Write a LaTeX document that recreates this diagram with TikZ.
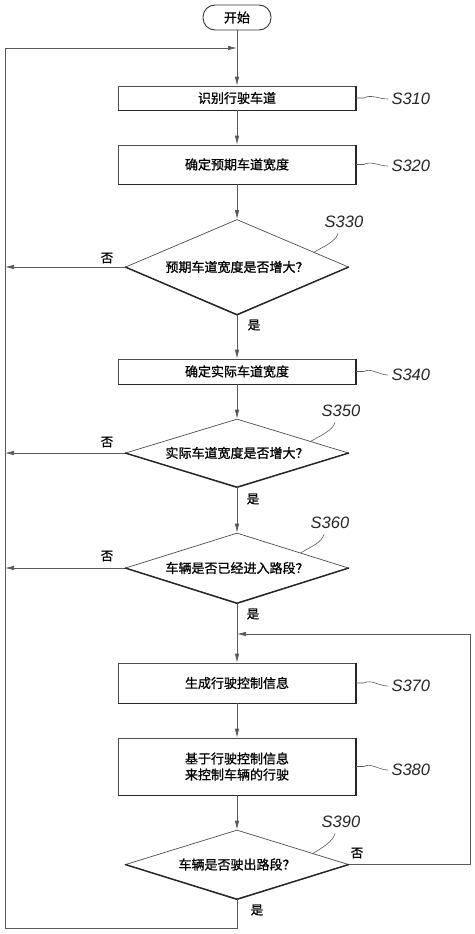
\documentclass[tikz,border=0pt]{standalone}
\usepackage{fontspec}
\setmainfont{Liberation Sans}
\newfontfamily\cjk{Noto Sans CJK SC}[FakeBold=1]
\usetikzlibrary{shapes.geometric}
\usetikzlibrary{arrows.meta}
\usetikzlibrary{calc}

\tikzset{
  box/.style={draw=black!70, line width=0.7pt, minimum width=237pt, inner sep=0pt,
    align=center, font=\cjk\fontsize{13}{16}\selectfont},
  decision/.style={draw=black!70, line width=0.7pt, diamond, aspect=4, minimum width=223pt,
    inner sep=0pt, font=\cjk\fontsize{13}{16}\selectfont},
  terminal/.style={draw=black!80, line width=0.9pt, rounded corners=12pt,
    minimum width=68pt, minimum height=25pt, font=\cjk\fontsize{13}{16}\selectfont},
  flow/.style={draw=black!65, line width=0.7pt, -{Latex[length=9pt,width=4.5pt]}},
  leader/.style={draw=black!65, line width=0.6pt},
  steptag/.style={font=\itshape\fontsize{16.5}{16}\selectfont, text=black!85},
  answer/.style={font=\cjk\fontsize{12.5}{14}\selectfont}
}

\begin{document}
\begin{tikzpicture}[x=1pt,y=-1pt]
\useasboundingbox (0,0) rectangle (474,934);

\node[terminal] (start) at (237,17.5) {开始};

\node[box, minimum height=24pt] (s310) at (237,98) {识别行驶车道};
\node[box, minimum height=39pt] (s320) at (237,164.5) {确定预期车道宽度};
\node[decision, minimum height=95pt] (d330) at (237,267) {预期车道宽度是否增大？};
\node[box, minimum height=25pt] (s340) at (237,371.5) {确定实际车道宽度};
\node[decision, minimum height=68pt] (d350) at (237,453) {实际车道宽度是否增大？};
\node[decision, minimum height=70pt] (d360) at (237,568) {车辆是否已经进入路段？};
\node[box, minimum height=40pt] (s370) at (237,683) {生成行驶控制信息};
\node[box, minimum height=57pt] (s380) at (237,766.5) {基于行驶控制信息\\来控制车辆的行驶};
\node[decision, minimum height=69pt] (d390) at (237,864.5) {车辆是否驶出路段？};

% heavier lower edges
\foreach \n in {s310,s320,s340,s370,s380}
  \draw[line width=1.6pt, black!85] (\n.north east) -- (\n.south east) -- (\n.south west);
\foreach \n in {d330,d350,d360,d390}
  \draw[line width=1.4pt, black!85] (\n.west) -- (\n.south) -- (\n.east);

% step tags
\node[steptag, anchor=west] (t310) at (388,99) {S310};
\node[steptag, anchor=west] (t320) at (388,166) {S320};
\node[steptag] (t330) at (344,222) {S330};
\node[steptag, anchor=west] (t340) at (388,375) {S340};
\node[steptag] (t350) at (341,411) {S350};
\node[steptag] (t360) at (330,523) {S360};
\node[steptag, anchor=west] (t370) at (388,686) {S370};
\node[steptag, anchor=west] (t380) at (388,770) {S380};
\node[steptag] (t390) at (341,822) {S390};

\foreach \n/\t in {s310/t310,s320/t320,s340/t340,s370/t370,s380/t380}
  \draw[leader] (\n.east) -- ++(8,0) .. controls +(7,-4) and +(-9,0) .. (\t.west);
\foreach \n/\t/\f in {d330/t330/0.69,d350/t350/0.66,d360/t360/0.57,d390/t390/0.68}
  \draw[leader] ($(\n.north)!\f!(\n.east)$) .. controls +(10,-6) and +(-2,8) .. ($(\t.south)+(-6,2)$);

% rails
\coordinate (railtop) at (5,48);
\coordinate (railbot) at (5,928);
\coordinate (entry) at (237,48);
\coordinate (railright) at (470,634);
\coordinate (merge) at (237,634);

\draw[flow] (start) -- (s310);
\draw[flow] (s310) -- (s320);
\draw[flow] (s320) -- (d330);
\draw[flow] (d330) -- (s340);
\draw[flow] (s340) -- (d350);
\draw[flow] (d350) -- (d360);
\draw[flow] (d360) -- (s370);
\draw[flow] (s370) -- (s380);
\draw[flow] (s380) -- (d390);

\foreach \n in {d330,d350,d360}
  \draw[flow] (\n.west) -- (\n.west -| railtop);
\draw[flow] (d390.south) |- (railbot) -- (railtop) -- (entry);
\draw[flow] (d390.east) -| (railright) -- (merge);

% answers
\node[answer] (n330) at (107,258) {否};
\node[answer] (n350) at (107,442) {否};
\node[answer] (n360) at (107,556) {否};
\node[answer] (n390) at (357,853) {否};
\node[answer] (y330) at (254,325) {是};
\node[answer] (y350) at (253,499) {是};
\node[answer] (y360) at (253,614) {是};
\node[answer] (y390) at (257,910) {是};

\end{tikzpicture}
\end{document}
